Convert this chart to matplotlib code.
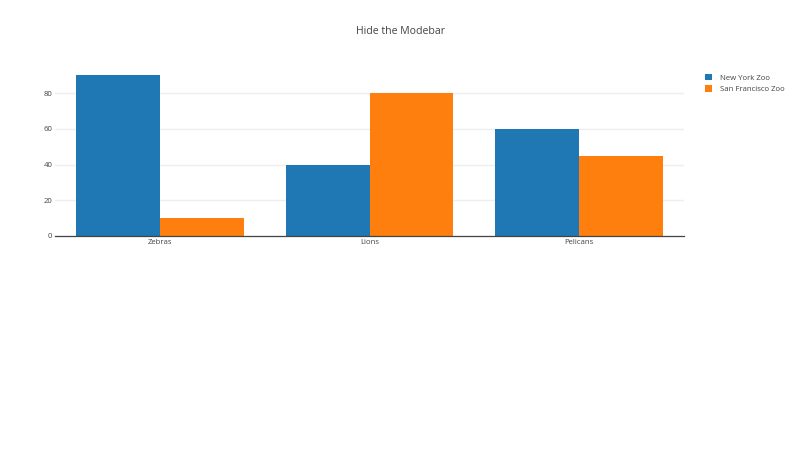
import numpy as np
from matplotlib import pyplot as plt

# Daten
animals = ["Zebras", "Lions", "Pelicans"]
ny_zoo = [90, 40, 60]
sf_zoo = [10, 80, 45]
series_names = ["New York Zoo", "San Francisco Zoo"]

BLUE = "#1f77b4"
ORANGE = "#ff7f0e"
TEXT = "#444444"
FS = 5.6

plt.rcParams['font.family'] = ['Open Sans', 'DejaVu Sans']

fig = plt.figure(figsize=(8, 4.5), dpi=100)
ax = fig.add_axes([0.06875, 0.4756, 0.7863, 0.3755])

x = np.arange(len(animals))
w = 0.4
ax.bar(x - w/2, ny_zoo, w, color=BLUE, label=series_names[0], zorder=2)
ax.bar(x + w/2, sf_zoo, w, color=ORANGE, label=series_names[1], zorder=2)

ax.set_xlim(-0.5, len(animals) - 0.5)
ax.set_ylim(0, max(max(ny_zoo), max(sf_zoo)) * 1.0526)
ax.set_xticks(x)
ax.set_xticklabels(animals)
ax.set_yticks([0, 20, 40, 60, 80])
ax.grid(axis="y", color="#eeeeee", linewidth=1, zorder=0)
ax.tick_params(axis="both", length=0, labelsize=FS, colors=TEXT)
ax.tick_params(axis="y", pad=2)
ax.tick_params(axis="x", pad=2.5)

for side in ["top", "right", "left"]:
    ax.spines[side].set_visible(False)
ax.spines["bottom"].set_color(TEXT)
ax.spines["bottom"].set_linewidth(0.9)
ax.spines["bottom"].set_zorder(3)

fig.text(0.5, 1 - 32/450, "Hide the Modebar", ha="center", va="center",
         fontsize=7.6, color=TEXT)

leg = ax.legend(loc="upper left", bbox_to_anchor=(1.033, 0.96), frameon=False,
                fontsize=FS, handlelength=0.9, handleheight=0.9, borderpad=0,
                handletextpad=1.1, labelspacing=0.45, borderaxespad=0)
for t in leg.get_texts():
    t.set_color(TEXT)

fig.savefig("out.png", dpi=100)
